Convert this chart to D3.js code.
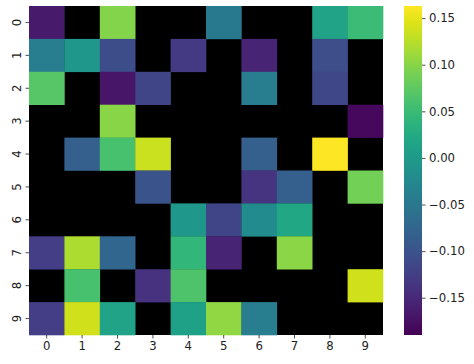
<!DOCTYPE html>
<html>
<head>
<meta charset="utf-8">
<script src="https://cdn.jsdelivr.net/npm/d3@7"></script>
<style>
html,body{margin:0;padding:0;background:#fff;}
svg{display:block;}
text{font-family:"DejaVu Sans",sans-serif;}
</style>
</head>
<body>
<script>
const xLabels = ["0","1","2","3","4","5","6","7","8","9"];
const yLabels = ["0","1","2","3","4","5","6","7","8","9"];
// null = missing cell (shown as black background)
const row0 = [-0.166, null, 0.097, null, null, -0.047, null, null, 0.015, 0.050];
const row1 = [-0.042, -0.003, -0.108, null, -0.130, null, -0.155, null, -0.106, null];
const row2 = [0.070, null, -0.170, -0.118, null, null, -0.042, null, -0.115, null];
const row3 = [null, null, 0.100, null, null, null, null, null, null, -0.183];
const row4 = [null, -0.084, 0.060, 0.135, null, null, -0.084, null, 0.163, null];
const row5 = [null, null, null, -0.100, null, null, -0.137, -0.084, null, 0.088];
const row6 = [null, null, null, null, -0.003, -0.118, -0.021, 0.020, null, null];
const row7 = [-0.126, 0.120, -0.074, null, 0.043, -0.155, null, 0.102, null, null];
const row8 = [null, 0.060, null, -0.140, 0.064, null, null, null, null, 0.138];
const row9 = [-0.126, 0.137, 0.015, null, 0.011, 0.104, -0.042, null, null, null];
const rows = [row0,row1,row2,row3,row4,row5,row6,row7,row8,row9];
const vmin = -0.190, vmax = 0.163;
const cbarTicks = [0.15, 0.10, 0.05, 0.00, -0.05, -0.10, -0.15];

const W = 474, H = 364;
const hm = {left:29, right:383, top:6, bottom:335};
const cb = {left:404, right:422, top:6, bottom:335};
const fontSize = 11.7;

const svg = d3.select("body").append("svg").attr("width", W).attr("height", H);

const x = d3.scaleBand().domain(xLabels).range([hm.left, hm.right]).padding(0);
const y = d3.scaleBand().domain(yLabels).range([hm.top, hm.bottom]).padding(0);
const color = d3.scaleSequential(d3.interpolateViridis).domain([vmin, vmax]);

svg.append("rect").attr("x", hm.left).attr("y", hm.top)
  .attr("width", hm.right-hm.left).attr("height", hm.bottom-hm.top).attr("fill", "#000");

const cells = [];
rows.forEach((r, i) => r.forEach((v, j) => { if (v !== null) cells.push({row:yLabels[i], col:xLabels[j], v}); }));
svg.append("g").selectAll("rect").data(cells).join("rect")
  .attr("x", d => x(d.col)).attr("y", d => y(d.row))
  .attr("width", x.bandwidth()+0.3).attr("height", y.bandwidth()+0.3)
  .attr("fill", d => color(d.v));

// x axis
const xAxis = svg.append("g").attr("transform", `translate(0,${hm.bottom})`)
  .call(d3.axisBottom(x).tickSize(3.5).tickPadding(3.5));
xAxis.select(".domain").remove();
xAxis.selectAll("line").attr("stroke", "#222").attr("stroke-width", 0.8);
xAxis.selectAll("text").attr("font-size", fontSize).attr("font-family", "DejaVu Sans").attr("fill", "#222");

// y axis
const yAxis = svg.append("g").attr("transform", `translate(${hm.left},0)`)
  .call(d3.axisLeft(y).tickSize(3.5).tickPadding(3.5));
yAxis.select(".domain").remove();
yAxis.selectAll("line").attr("stroke", "#222").attr("stroke-width", 0.8);
yAxis.selectAll("text").attr("font-size", fontSize).attr("font-family", "DejaVu Sans").attr("fill", "#222")
  .attr("x", null).attr("dy", null)
  .attr("text-anchor", "middle").attr("dominant-baseline", "central")
  .attr("transform", "translate(-12.5,0) rotate(-90)");

// colorbar
const defs = svg.append("defs");
const grad = defs.append("linearGradient").attr("id", "cbg")
  .attr("x1", 0).attr("y1", 1).attr("x2", 0).attr("y2", 0);
d3.range(0, 1.0001, 0.05).forEach(t => grad.append("stop").attr("offset", t).attr("stop-color", d3.interpolateViridis(t)));
svg.append("rect").attr("x", cb.left).attr("y", cb.top).attr("width", cb.right-cb.left)
  .attr("height", cb.bottom-cb.top).attr("fill", "url(#cbg)");
const cy = d3.scaleLinear().domain([vmin, vmax]).range([cb.bottom, cb.top]);
const cAxis = svg.append("g").attr("transform", `translate(${cb.right},0)`)
  .call(d3.axisRight(cy).tickValues(cbarTicks).tickSize(3.5).tickPadding(3.5)
    .tickFormat(d => (d < 0 ? "\u2212" : "") + Math.abs(d).toFixed(2)));
cAxis.select(".domain").remove();
cAxis.selectAll("line").attr("stroke", "#222").attr("stroke-width", 0.8);
cAxis.selectAll("text").attr("font-size", fontSize).attr("font-family", "DejaVu Sans").attr("fill", "#222");
</script>
</body>
</html>
